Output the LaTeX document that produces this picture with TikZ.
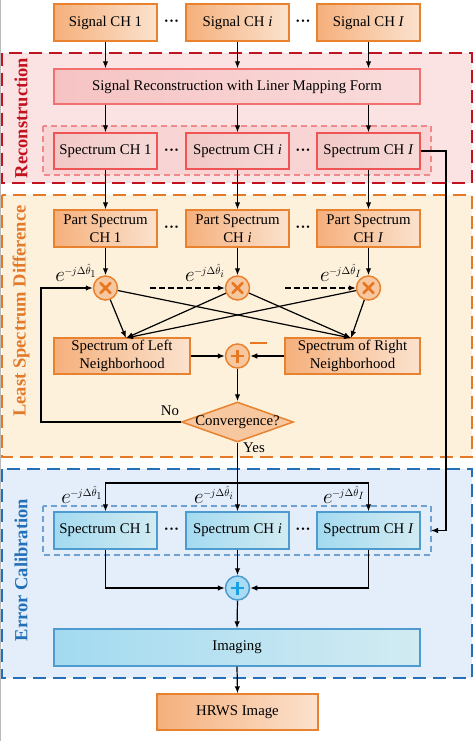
\RequirePackage{fix-cm}
\documentclass[tikz,border=0pt]{standalone}
\usepackage{fontspec}
\setmainfont{Liberation Serif}
\usetikzlibrary{arrows.meta,shapes.geometric,calc}
\definecolor{recFill}{HTML}{FCE3E3}
\definecolor{recBord}{HTML}{C1121F}
\definecolor{lsdFill}{HTML}{FDF1DC}
\definecolor{lsdBord}{HTML}{E27A2A}
\definecolor{ecFill}{HTML}{E3EEFA}
\definecolor{ecBord}{HTML}{2370B8}
\definecolor{pinkDash}{HTML}{F08A8A}
\definecolor{pinkIn}{HTML}{F8D4D4}
\definecolor{blueDash}{HTML}{6FA0D2}
\definecolor{oL}{HTML}{F5B07C}
\definecolor{oR}{HTML}{FBE2CE}
\definecolor{oBord}{HTML}{E9822F}
\definecolor{pL}{HTML}{F6C3C3}
\definecolor{pR}{HTML}{FADCDC}
\definecolor{pBord}{HTML}{F27070}
\definecolor{sL}{HTML}{F1C8C6}
\definecolor{sR}{HTML}{F6DAD8}
\definecolor{sBord}{HTML}{EF5555}
\definecolor{bL}{HTML}{A3DAF0}
\definecolor{bR}{HTML}{D2EBF2}
\definecolor{bBord}{HTML}{4E9BD0}
\definecolor{oCirc}{HTML}{F7C7A0}
\definecolor{oSym}{HTML}{E87722}
\definecolor{bCirc}{HTML}{A8DCF2}
\definecolor{bSym}{HTML}{1AA0E6}
\newcommand\boxfont{\fontsize{14.8}{17.5}\selectfont}
\newcommand\lblfont{\bfseries\fontsize{18.5}{20}\selectfont}
\newcommand\mydots{{\fontsize{10}{10}\selectfont •\kern1.6pt•\kern1.6pt•}}
\newcommand\phs[1]{$e^{\scriptscriptstyle \mkern-1mu-\mkern-1mu j\Delta\hat{\theta}_{#1}}$}
\begin{document}
\begin{tikzpicture}[x=1pt,y=-1pt,
  arr/.style={-{Latex[length=7pt,width=5.5pt]}, line width=1.2pt, draw=black},
  plain/.style={line width=1.2pt, draw=black},
  obox/.style={draw=oBord, line width=1.3pt, left color=oL, right color=oR,
    minimum width=103pt, minimum height=37pt, inner sep=0pt, align=center, font=\boxfont},
  recbox/.style={draw=pBord, line width=1.3pt, left color=pL, right color=pR,
    minimum width=366pt, minimum height=35pt, inner sep=0pt, font=\boxfont},
  sbox/.style={draw=sBord, line width=1.3pt, left color=sL, right color=sR,
    minimum width=103pt, minimum height=36pt, inner sep=0pt, font=\boxfont},
  bbox/.style={draw=bBord, line width=1.3pt, left color=bL, right color=bR,
    minimum width=103pt, minimum height=37pt, inner sep=0pt, font=\boxfont},
  nbox/.style={draw=oBord, line width=1.3pt, left color=oL, right color=oR,
    minimum height=36pt, inner sep=0pt, align=center, font=\boxfont},
  dotsn/.style={inner sep=0pt},
  region/.style={line width=2.6pt, dash pattern=on 13pt off 7pt},
  innerd/.style={line width=1.2pt, dash pattern=on 6pt off 4pt},
  mulc/.style={circle, draw=oBord, fill=oCirc, line width=1.5pt, minimum size=24pt, inner sep=0pt,
    path picture={\draw[line width=2.6pt, oSym, line cap=round]
      (path picture bounding box.center) +(-5,-5) -- +(5,5)
      (path picture bounding box.center) +(-5,5) -- +(5,-5);}},
  addc/.style={circle, draw=#1, line width=1.5pt, minimum size=24pt, inner sep=0pt},
  phase/.style={font=\fontsize{21}{21}\selectfont, inner sep=0pt},
  txt/.style={font=\boxfont, inner sep=0pt},
  lbl/.style={font=\lblfont, rotate=90, inner sep=0pt}
]
\useasboundingbox (0,0) rectangle (474,741);
\fill[white] (0,0) rectangle (474,741);
\draw[gray!55, line width=1.5pt] (0.7,0) -- (0.7,741);

% regions
\draw[region, draw=recBord, fill=recFill] (2,53) rectangle (472,183);
\draw[region, draw=lsdBord, fill=lsdFill] (2,195) rectangle (472,457);
\draw[region, draw=ecBord, fill=ecFill] (2,469) rectangle (472,678);
\node[lbl, text=recBord] (lrec) at (21,118) {Reconstruction};
\node[lbl, text=lsdBord] (llsd) at (21,311) {Least Spectrum Difference};
\node[lbl, text=ecBord] (lec) at (21,570) {Error Calibration};

% top signals
\node[obox] (sig1) at (105.5,22.5) {Signal CH 1};
\node[obox] (sig2) at (237.5,22.5) {Signal CH \textit{i}};
\node[obox] (sig3) at (368.5,22.5) {Signal CH \textit{I}};
\node[dotsn] (sd1) at (171.5,22) {\mydots};
\node[dotsn] (sd2) at (303,22) {\mydots};

% reconstruction
\node[recbox] (recon) at (237,86.5) {Signal Reconstruction with Liner Mapping Form};
\draw[innerd, draw=pinkDash, fill=pinkIn] (43,126) rectangle (431,175);
\node[sbox] (spec1) at (105.5,151) {Spectrum CH 1};
\node[sbox] (spec2) at (237.5,151) {Spectrum CH \textit{i}};
\node[sbox] (spec3) at (368.5,151) {Spectrum CH \textit{I}};
\node[dotsn] (pd1) at (171.5,151) {\mydots};
\node[dotsn] (pd2) at (303,151) {\mydots};

\foreach \k in {1,2,3}{
  \draw[arr] (sig\k.south) -- (sig\k.south |- recon.north);
  \draw[arr] (sig\k.south |- recon.south) -- (spec\k.north);
}

% least spectrum difference
\node[obox] (part1) at (105.5,228.5) {Part Spectrum\\CH 1};
\node[obox] (part2) at (237.5,228.5) {Part Spectrum\\CH \textit{i}};
\node[obox] (part3) at (368.5,228.5) {Part Spectrum\\CH \textit{I}};
\node[dotsn] (ld1) at (171.5,228) {\mydots};
\node[dotsn] (ld2) at (303,228) {\mydots};
\foreach \k in {1,2,3}{
  \draw[arr] (spec\k.south) -- (part\k.north);
}
\node[mulc] (mul1) at (105.5,288) {};
\node[mulc] (mul2) at (237.5,288) {};
\node[mulc] (mul3) at (368.5,288) {};
\foreach \k in {1,2,3}{
  \draw[arr] (part\k.south) -- (mul\k.north);
}
\node[phase] (ph1) at (76,273) {\phs{1}};
\node[phase] (ph2) at (205,273) {\phs{i}};
\node[phase] (ph3) at (341,273) {\phs{I}};
\coordinate (d2) at (150,288);
\coordinate (d3) at (285,288);
\draw[arr, dash pattern=on 6pt off 3pt] (d2) -- (mul2.west);
\draw[arr, dash pattern=on 6pt off 3pt] (d3) -- (mul3.west);

\node[nbox, minimum width=136pt] (leftN) at (122,356) {Spectrum of Left\\Neighborhood};
\node[nbox, minimum width=135pt] (rightN) at (352.5,356) {Spectrum of Right\\Neighborhood};
\coordinate (L) at (126,338);
\coordinate (R) at (351,338);
\foreach \k in {1,2,3}{
  \draw[arr] (mul\k) -- (L);
  \draw[arr] (mul\k) -- (R);
}
\node[addc=oBord, fill=oCirc] (sum) at (237.5,356) {};
\draw[line width=2.6pt, oSym] (sum.center) +(-6.5,0) -- +(6.5,0)
  (sum.center) +(0,-6.5) -- +(0,6.5);
\draw[line width=2.6pt, oSym] ($(sum.center)+(12.5,-13)$) -- ($(sum.center)+(29.5,-13)$);
\draw[arr] (leftN.east) -- (sum.west);
\draw[arr] (rightN.west) -- (sum.east);

\node[diamond, draw=oBord, fill=oCirc, line width=1.5pt, inner sep=0pt,
  minimum width=112pt, minimum height=40pt, font=\boxfont] (dia) at (237.5,422)
  {\makebox[0pt]{Convergence?}};
\draw[arr] (sum.south) -- (dia.north);
\coordinate (fb) at (41,422);
\draw[arr] (dia.west) -- (fb) |- (mul1.west);
\node[txt] (no) at (170,411) {No};
\node[txt] (yes) at (254,448) {Yes};

% error calibration
\draw[innerd, draw=blueDash] (43,506) rectangle (431,555);
\coordinate (bin) at (431,530.5);
\node[bbox] (bs1) at (105.5,530.5) {Spectrum CH 1};
\node[bbox] (bs2) at (237.5,530.5) {Spectrum CH \textit{i}};
\node[bbox] (bs3) at (368.5,530.5) {Spectrum CH \textit{I}};
\node[dotsn] (bd1) at (171.5,530.5) {\mydots};
\node[dotsn] (bd2) at (303,530.5) {\mydots};
\coordinate (sp) at (237.5,483);
\draw[plain] (dia.south) -- (sp);
\draw[arr] (sp) -| (bs1.north);
\draw[arr] (sp) -- (bs2.north);
\draw[arr] (sp) -| (bs3.north);
\node[phase] (q1) at (82,495) {\phs{1}};
\node[phase] (q2) at (214,495) {\phs{i}};
\node[phase] (q3) at (344,495) {\phs{I}};

\coordinate (rr) at (446,530.5);
\draw[arr] (spec3.east) -| (rr) -- (bin);

\node[addc=bBord, fill=bCirc] (bsum) at (237.5,588) {};
\draw[line width=2.6pt, bSym] (bsum.center) +(-6.5,0) -- +(6.5,0)
  (bsum.center) +(0,-6.5) -- +(0,6.5);
\draw[arr] (bs1.south) |- (bsum.west);
\draw[arr] (bs3.south) |- (bsum.east);
\draw[arr] (bs2.south) -- (bsum.north);

\node[bbox, minimum width=366pt] (img) at (237,647.5) {Imaging};
\draw[arr] (bsum.south) -- (img.north);
\node[obox, minimum width=161pt, minimum height=36pt] (hrws) at (237.5,712) {HRWS Image};
\draw[arr] (img.south) -- (hrws.north);
\end{tikzpicture}
\end{document}
